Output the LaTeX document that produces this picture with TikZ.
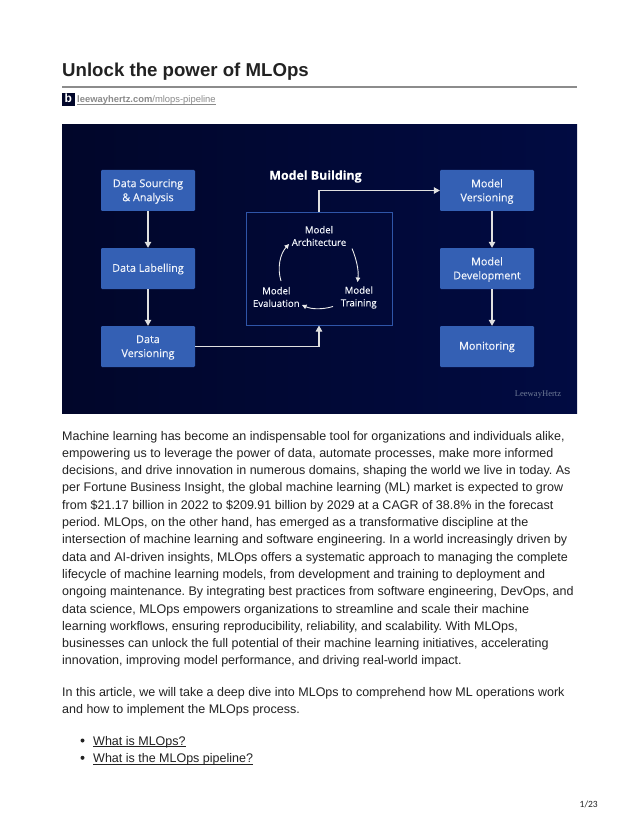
\documentclass[tikz,border=0pt]{standalone}
\usepackage{fontspec}
\setmainfont{Liberation Sans}
\newfontfamily\diag[FakeBold=0.25]{Open Sans}
\newfontfamily\pagef{Carlito}
\newfontfamily\serifw{Liberation Serif}
\usetikzlibrary{arrows.meta,calc}
\frenchspacing
\definecolor{ink}{HTML}{222222}
\definecolor{boxblue}{HTML}{3460B4}
\definecolor{navyL}{HTML}{01062A}
\definecolor{navyR}{HTML}{010B42}
\definecolor{frameblue}{HTML}{2F55A8}
\definecolor{linkgrey}{HTML}{8A8A8A}
\definecolor{rulegrey}{HTML}{8C8C8C}
\definecolor{cardtext}{HTML}{F2F5FB}
\definecolor{markgrey}{HTML}{6E7A96}
\tikzset{
  x=1pt,y=-1pt,
  bodyline/.style={anchor=base west,inner sep=0pt,text=ink,font=\frenchspacing\fontsize{12.5}{15}\selectfont},
  card/.style={fill=boxblue,rounded corners=1.2pt,minimum width=94pt,minimum height=41pt,inner sep=0pt},
  cardtxt/.style={inner sep=0pt,align=center,text=cardtext,font=\diag\fontsize{10.8}{14}\selectfont},
  label/.style={inner sep=0pt,align=center,text=cardtext,font=\diag\fontsize{9.6}{12.6}\selectfont},
  flow/.style={draw=white!88!black,line width=1.1pt,-{Triangle[width=6.5pt,length=6pt]}},
  cyc/.style={draw=white!92!black,line width=0.9pt,-{Triangle[width=4.5pt,length=4.5pt]}},
}
\begin{document}
\begin{tikzpicture}
\useasboundingbox (0,0) rectangle (638,826);
\fill[white] (0,0) rectangle (638,826);
% header
\node[anchor=base west,inner sep=0pt,text=ink,font=\bfseries\fontsize{18.65}{24}\selectfont] (title) at (62,76.8) {Unlock the power of MLOps};
\coordinate (ruleL) at (62,87.5); \coordinate (ruleR) at (577,87.5);
\draw[rulegrey,line width=2pt] (ruleL) -- (ruleR);
\node[fill=navyL,minimum width=12.5pt,minimum height=13pt,inner sep=0pt,anchor=north west] (logo) at (62,92.5) {};
\node[inner sep=0pt,text=white,font=\bfseries\fontsize{12}{12}\selectfont] (logob) at (68.2,98.6) {b};
\node[anchor=base west,inner sep=0pt,text=linkgrey,font=\fontsize{9.4}{11}\selectfont] (src) at (77,102.5) {\underline{\smash{\textbf{leewayhertz.com}/mlops-pipeline}}};
% banner
\shade[left color=navyL,right color=navyR] (62,124.5) rectangle (577,413.5);
\node[card] (a1) at (148,190.5) {};
\node[card] (a2) at (148,268.5) {};
\node[card] (a3) at (148,346.5) {};
\node[card] (b1) at (487,190.5) {};
\node[card] (b2) at (487,268.5) {};
\node[card] (b3) at (487,346.5) {};
\node[cardtxt] (ta1) at (148,191.5) {Data Sourcing\\\& Analysis};
\node[cardtxt] (ta2) at (148,269) {Data Labelling};
\node[cardtxt] (ta3) at (148,347.5) {Data\\Versioning};
\node[cardtxt] (tb1) at (487,191.5) {Model\\Versioning};
\node[cardtxt] (tb2) at (487,269.5) {Model\\Development};
\node[cardtxt] (tb3) at (487,347) {Monitoring};
\node[text=white,inner sep=0pt,font=\diag\bfseries\fontsize{12.4}{15}\selectfont] (mb) at (315.5,176.5) {Model Building};
\node[draw=frameblue,line width=1pt,minimum width=146pt,minimum height=112.5pt,inner sep=0pt] (frame) at (319,268.8) {};
\node[label] (c1) at (319,236) {Model\\Architecture};
\node[label] (c2) at (358.8,297.5) {Model\\Training};
\node[label] (c3) at (276.3,297) {Model\\Evaluation};
\draw[flow] (a1) -- (a2);
\draw[flow] (a2) -- (a3);
\draw[flow] ([xshift=5pt]b1.south) -- ([xshift=5pt]b2.north);
\draw[flow] ([xshift=5pt]b2.south) -- ([xshift=5pt]b3.north);
\draw[flow] (a3.east) -| (frame.south);
\draw[flow] (frame.north) |- (b1.west);
\coordinate (ca) at (352,248.5); \coordinate (cb) at (357.5,282);
\coordinate (cc) at (333,306.5); \coordinate (cd) at (302,305);
\coordinate (ce) at (281,281); \coordinate (cf) at (289,244);
\draw[cyc] (ca) .. controls (356,258) and (359,270) .. (cb);
\draw[cyc] (cc) .. controls (323,309.5) and (312,309.5) .. (cd);
\draw[cyc] (ce) .. controls (277,268) and (280,254) .. (cf);
\node[inner sep=0pt,text=markgrey,font=\serifw\fontsize{8.6}{10}\selectfont] (mark) at (538,395) {LeewayHertz};
% body
\foreach \n/\yy/\t in {
 1/440/{Machine learning has become an indispensable tool for organizations and individuals alike,},
 2/457.3/{empowering us to leverage the power of data, automate processes, make more informed},
 3/474.6/{decisions, and drive innovation in numerous domains, shaping the world we live in today. As},
 4/491.9/{per Fortune Business Insight, the global machine learning (ML) market is expected to grow},
 5/509.2/{from \$21.17 billion in 2022 to \$209.91 billion by 2029 at a CAGR of 38.8\% in the forecast},
 6/526.5/{period. MLOps, on the other hand, has emerged as a transformative discipline at the},
 7/543.8/{intersection of machine learning and software engineering. In a world increasingly driven by},
 8/561.1/{data and AI-driven insights, MLOps offers a systematic approach to managing the complete},
 9/578.4/{lifecycle of machine learning models, from development and training to deployment and},
 10/595.7/{ongoing maintenance. By integrating best practices from software engineering, DevOps, and},
 11/613/{data science, MLOps empowers organizations to streamline and scale their machine},
 12/630.3/{learning workflows, ensuring reproducibility, reliability, and scalability. With MLOps,},
 13/647.6/{businesses can unlock the full potential of their machine learning initiatives, accelerating},
 14/664.9/{innovation, improving model performance, and driving real-world impact.},
 15/696.5/{In this article, we will take a deep dive into MLOps to comprehend how ML operations work},
 16/713.8/{and how to implement the MLOps process.}}
 {\node[bodyline] (line\n) at (62,\yy) {\t};}
\node[bodyline] (li1) at (93,745) {\underline{\smash{What is MLOps?}}};
\node[bodyline] (li2) at (93,762.3) {\underline{\smash{What is the MLOps pipeline?}}};
\fill[ink] (82.5,740.5) circle (2pt);
\fill[ink] (82.5,757.8) circle (2pt);
\node[anchor=base east,inner sep=0pt,text=ink,font=\pagef\fontsize{9.5}{11}\selectfont] (pg) at (598,807.5) {1/23};
\end{tikzpicture}
\end{document}
